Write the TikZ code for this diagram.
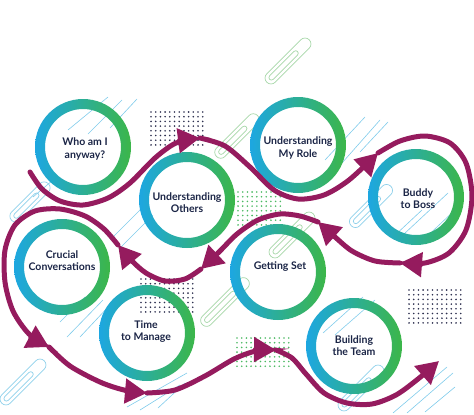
\documentclass[tikz,border=0pt]{standalone}
\usepackage{fontspec}
\setmainfont{Lato}
\usepackage{xcolor}
\usetikzlibrary{arrows.meta}
\definecolor{RoutePurple}{HTML}{951B5E}
\definecolor{TextNavy}{HTML}{1B2546}
\definecolor{RingBlue}{HTML}{1DA7E1}
\definecolor{RingGreen}{HTML}{3CB649}
\definecolor{HatchBlue}{HTML}{7FCBEB}
\definecolor{ClipBlue}{HTML}{8ED0EA}
\definecolor{ClipGreen}{HTML}{A5D6A7}
\definecolor{DotNavy}{HTML}{2E3150}
\definecolor{DotGreen}{HTML}{4CB963}

\tikzset{
  steplabel/.style={font=\bfseries\fontsize{10.5}{12.5}\selectfont, text=TextNavy,
    align=center, inner sep=0pt},
  ringshade/.style={left color=RingBlue, right color=RingGreen, even odd rule},
  route/.style={draw=RoutePurple, line width=5pt, line cap=round,
    -{Triangle[length=22pt,width=24pt]}},
  hatch/.style={draw=HatchBlue, line width=0.6pt},
}

% dot grid: x, y, columns, rows, colour
\newcommand{\dotgrid}[5]{%
  \foreach \i in {1,...,#3} \foreach \j in {1,...,#4}
    \fill[#5] ({#1+(\i-1)*4.7},{#2+(\j-1)*4.7}) circle[radius=0.9pt];}
% paper clip: x, y, half length, colour
\newcommand{\paperclip}[4]{%
  \begin{scope}[shift={(#1,#2)}, rotate=45]
    \draw[#4, line width=0.7pt, rounded corners=6pt] (-#3pt,-6pt) rectangle (#3pt,6pt);
    \draw[#4, line width=0.7pt, rounded corners=2.5pt] ({-#3pt+4pt},-2.5pt) rectangle ({0.45*#3pt},2.5pt);
  \end{scope}}

\begin{document}
\begin{tikzpicture}[x=1pt,y=-1pt]
  \useasboundingbox (0,0) rectangle (474,415);

  % background decoration
  \foreach \xa/\ya/\xb/\yb in {68/130/108/97, 88/134/122/100, 110/128/137/99,
      33/197/53/180, 110/240/147/203, 120/248/153/215,
      325/160/365/117, 342/163/380/120, 360/152/388/122,
      392/238/422/210, 404/234/448/193, 420/243/455/210,
      67/337/103/300, 80/337/110/305, 60/322/85/297,
      127/407/187/373, 140/410/180/385, 158/408/185/383,
      323/333/363/297, 335/335/375/300,
      393/413/447/367, 407/413/453/373, 425/412/455/387}
    \draw[hatch] (\xa,\ya) -- (\xb,\yb);

  \paperclip{288}{61}{30}{ClipGreen}
  \paperclip{237}{136}{29}{ClipGreen}
  \paperclip{30}{202}{26}{ClipBlue}
  \paperclip{371}{206}{28}{ClipBlue}
  \paperclip{292}{235}{30}{ClipGreen}
  \paperclip{225}{302}{32}{ClipGreen}
  \paperclip{23}{382}{30}{ClipBlue}
  \paperclip{361}{388}{30}{ClipBlue}

  \dotgrid{151}{112}{12}{8}{DotNavy}
  \dotgrid{238}{192}{10}{8}{DotGreen}
  \dotgrid{141}{279}{12}{8}{DotNavy}
  \dotgrid{409}{290}{12}{8}{DotNavy}
  \dotgrid{237}{338}{12}{7}{DotGreen}

  % rings
  \foreach \cx/\cy in {83/147, 187/200, 298/145, 416/197,
      62/267, 278/272, 147/333, 354/346}
    \shade[ringshade] (\cx,\cy) circle[radius=48pt] (\cx,\cy) circle[radius=38pt];

  % step labels
  \node[steplabel] (who)     at (85,149)    {Who am I\\anyway?};
  \node[steplabel] (others)  at (187,202.5) {Understanding\\Others};
  \node[steplabel] (role)    at (298,148)   {Understanding\\My Role};
  \node[steplabel] (buddy)   at (418,198.5) {Buddy\\to Boss};
  \node[steplabel] (crucial) at (62,260.5)  {Crucial\\Conversations};
  \node[steplabel] (getset)  at (280,267)   {Getting Set};
  \node[steplabel] (time)    at (146,331.5) {Time\\to Manage};
  \node[steplabel] (team)    at (354,345.5) {Building\\the Team};

  % route
  \coordinate (start)  at (30,172);
  \coordinate (a1)     at (200,138);
  \coordinate (a2)     at (378,153);
  \coordinate (a3)     at (400,263);
  \coordinate (a4)     at (318,222);
  \coordinate (a5)     at (201,269);
  \coordinate (a6)     at (118,245);
  \coordinate (a7)     at (49,347);
  \coordinate (a8)     at (147,393);
  \coordinate (a9)     at (276,350);
  \coordinate (finish) at (439,361);

  \draw[route] plot[smooth] coordinates {(start) (42,189) (60,201) (83,205) (108,198)
    (130,183) (155,158) (176,143) (a1)};
  \draw[route] plot[smooth] coordinates {(a1) (225,146) (250,167) (274,190) (298,199)
    (324,195) (349,180) (a2)};
  \draw[route] plot[smooth] coordinates {(a2) (400,141) (425,136) (450,143) (466,163)
    (472,196) (466,230) (449,253) (425,263) (a3)};
  \draw[route] plot[smooth] coordinates {(a3) (375,261) (352,251) (335,237) (a4)};
  \draw[route] plot[smooth] coordinates {(a4) (300,216) (280,214) (258,220) (237,234)
    (219,252) (a5)};
  \draw[route] plot[smooth] coordinates {(a5) (185,279) (165,281) (146,273) (131,260) (a6)};
  \draw[route] plot[smooth] coordinates {(a6) (104,229) (85,216) (60,209) (35,211)
    (15,225) (5,250) (5,282) (13,311) (29,334) (a7)};
  \draw[route] plot[smooth] coordinates {(a7) (70,366) (100,382) (124,390) (a8)};
  \draw[route] plot[smooth] coordinates {(a8) (175,390) (205,376) (234,359) (256,351) (a9)};
  \draw[route] plot[smooth] coordinates {(a9) (292,358) (306,374) (324,393) (347,403)
    (372,404) (396,395) (418,379) (finish)};
\end{tikzpicture}
\end{document}
